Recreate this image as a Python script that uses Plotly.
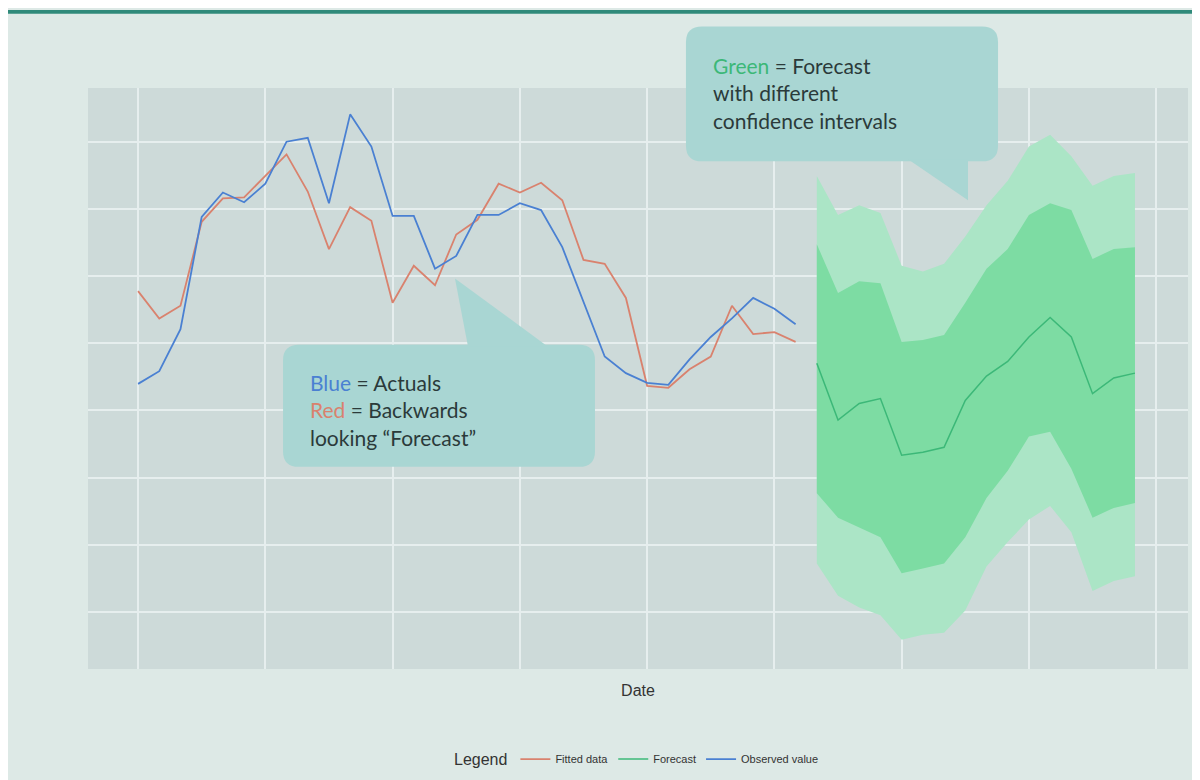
import plotly.graph_objects as go

# observed and fitted values (arbitrary units)
obs_x = list(range(32))
observed = [31.7, 33.0, 37.3, 48.8, 51.3, 50.3, 52.2, 56.5, 56.9, 50.2, 59.3, 56.0,
            48.9, 48.9, 43.5, 44.8, 49.0, 49.0, 50.2, 49.5, 45.7, 40.0, 34.5, 32.8,
            31.8, 31.6, 34.2, 36.5, 38.4, 40.5, 39.4, 37.8]
fitted = [41.2, 38.4, 39.7, 48.3, 50.7, 50.8, 53.0, 55.2, 51.4, 45.5, 49.8, 48.4,
          40.0, 43.8, 41.8, 47.0, 48.5, 52.2, 51.3, 52.3, 50.5, 44.4, 44.0, 40.5,
          31.5, 31.3, 33.2, 34.5, 39.7, 36.8, 37.0, 36.0]

fc_x = list(range(32, 48))
forecast = [33.8, 28.0, 29.7, 30.2, 24.4, 24.7, 25.2, 30.0, 32.5, 34.0, 36.5, 38.5,
            36.5, 30.7, 32.3, 32.8]
hi80 = [46.0, 41.0, 42.2, 42.0, 36.0, 36.2, 36.7, 40.0, 43.5, 45.5, 49.0, 50.2,
        49.5, 44.5, 45.5, 45.7]
lo80 = [20.5, 18.0, 17.0, 16.0, 12.3, 12.8, 13.3, 16.0, 20.0, 22.8, 26.3, 26.8,
        23.0, 18.0, 19.0, 19.5]
hi95 = [53.0, 49.0, 50.0, 49.2, 43.8, 43.2, 44.0, 46.8, 50.0, 52.5, 56.0, 57.2,
        55.0, 52.0, 53.0, 53.3]
lo95 = [13.3, 10.0, 8.8, 8.0, 5.5, 6.0, 6.2, 8.5, 13.0, 15.5, 17.8, 19.2,
        16.5, 10.5, 11.5, 12.0]

BLUE = "#4a80d2"
RED = "#d9826e"
GREEN = "#3cb878"

fig = go.Figure()
fig.add_trace(go.Scatter(x=fc_x + fc_x[::-1], y=hi95 + lo95[::-1], fill="toself",
                         fillcolor="#abe5c6", line=dict(width=0), hoverinfo="skip",
                         showlegend=False))
fig.add_trace(go.Scatter(x=fc_x + fc_x[::-1], y=hi80 + lo80[::-1], fill="toself",
                         fillcolor="#7ddca3", line=dict(width=0), hoverinfo="skip",
                         showlegend=False))
fig.add_trace(go.Scatter(x=obs_x, y=fitted, mode="lines", name="Fitted data",
                         line=dict(color=RED, width=1.8)))
fig.add_trace(go.Scatter(x=fc_x, y=forecast, mode="lines", name="Forecast",
                         line=dict(color=GREEN, width=1.5)))
fig.add_trace(go.Scatter(x=obs_x, y=observed, mode="lines", name="Observed value",
                         line=dict(color=BLUE, width=1.8)))

L, R, T, B = 80, 1180, 80, 675


def px(x, y):
    return (x - L) / (R - L), (B - y) / (B - T)


def bubble(x0, y0, x1, y1, tip, base, r=16):
    # rounded box with a pointer, pixel coordinates -> paper path
    pts = []
    def p(x, y):
        a, b = px(x, y)
        return f"{a:.4f},{b:.4f}"
    d = (f"M{p(x0 + r, y0)} L{p(x1 - r, y0)} Q{p(x1, y0)} {p(x1, y0 + r)} "
         f"L{p(x1, y1 - r)} Q{p(x1, y1)} {p(x1 - r, y1)} "
         f"L{p(x0 + r, y1)} Q{p(x0, y1)} {p(x0, y1 - r)} "
         f"L{p(x0, y0 + r)} Q{p(x0, y0)} {p(x0 + r, y0)} Z")
    tri = f"M{p(*base[0])} L{p(*tip)} L{p(*base[1])} Z"
    for path in (d, tri):
        fig.add_shape(type="path", path=path, xref="paper", yref="paper",
                      fillcolor="#a9d6d3", line=dict(width=0), layer="above")


bubble(275, 343, 587, 468, (447, 275), ((460, 345), (540, 345)))
bubble(678, 17, 990, 155, (960, 195), ((900, 153), (960, 153)))

ax, ay = px(300, 410)
fig.add_annotation(xref="paper", yref="paper", x=ax, y=ay, xanchor="left", yanchor="middle",
                   showarrow=False, align="left",
                   text=f"<span style='color:{BLUE}'>Blue</span> = Actuals<br>"
                        f"<span style='color:{RED}'>Red</span> = Backwards<br>"
                        "looking “Forecast”",
                   font=dict(family="Lato, Open Sans", size=21, color="#2b3a3a"))
ax, ay = px(703, 85)
fig.add_annotation(xref="paper", yref="paper", x=ax, y=ay, xanchor="left", yanchor="middle",
                   showarrow=False, align="left",
                   text=f"<span style='color:{GREEN}'>Green</span> = Forecast<br>"
                        "with different<br>confidence intervals",
                   font=dict(family="Lato, Open Sans", size=21, color="#2b3a3a"))

fig.update_layout(
    width=1200, height=780,
    margin=dict(l=L, r=1200 - R, t=T, b=780 - B),
    paper_bgcolor="#dde9e6",
    plot_bgcolor="#cddad9",
    xaxis=dict(range=[-2.36, 49.5], showticklabels=False, tick0=0, dtick=6,
               gridcolor="#e6eeee", gridwidth=1.5, zeroline=False,
               title=dict(text="Date", font=dict(family="Liberation Sans", size=16, color="#333"))),
    yaxis=dict(range=[2.5, 62], showticklabels=False, tick0=56.5, dtick=6.88,
               gridcolor="#e6eeee", gridwidth=1.5, zeroline=False),
    legend=dict(orientation="h", x=0.5, xanchor="center", y=-0.13, yanchor="top",
                title=dict(text="Legend", font=dict(size=16, color="#333")),
                font=dict(family="Liberation Sans", size=11, color="#333")),
)
fig.add_shape(type="rect", xref="paper", yref="paper", x0=-0.1, x1=1.1,
              y0=px(0, 4)[1], y1=px(0, 0)[1], fillcolor="#2f8a7a", line=dict(width=0))

fig.write_html("out.html")
